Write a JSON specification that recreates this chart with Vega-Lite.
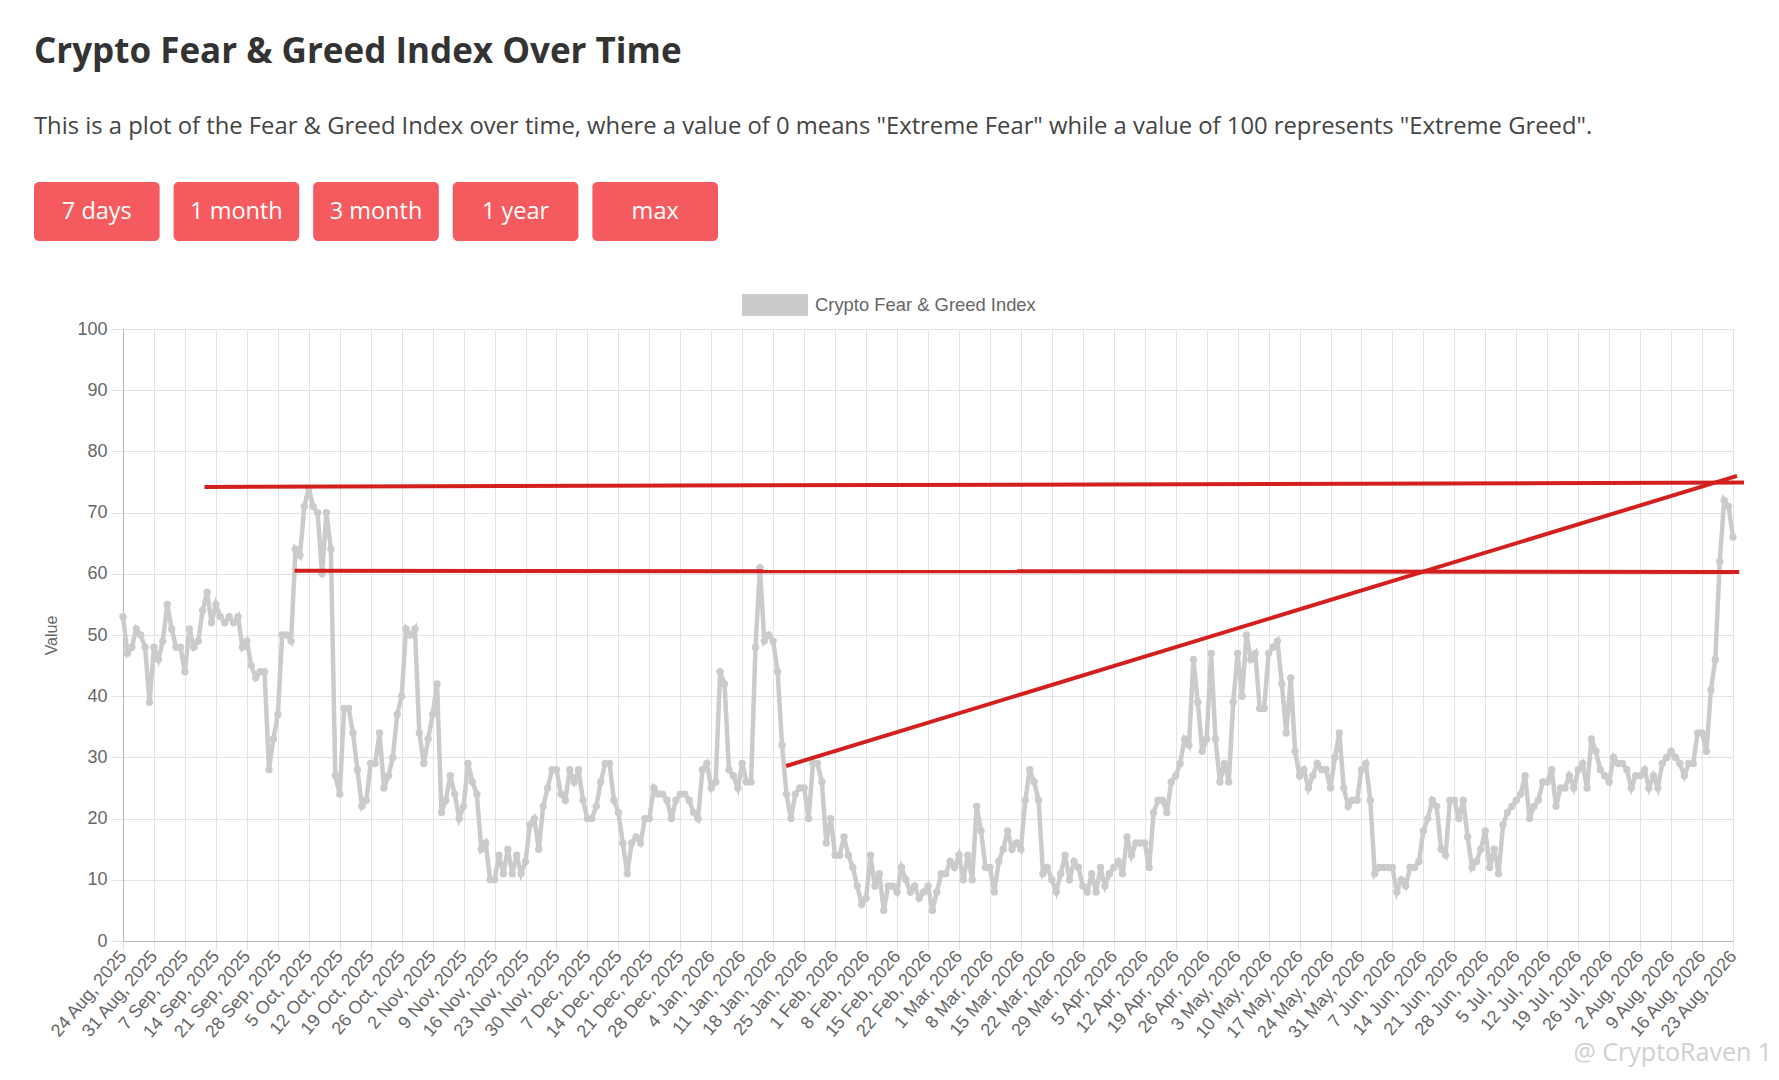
{
  "$schema": "https://vega.github.io/schema/vega-lite/v6.json",
  "background": "white",
  "padding": {"left": 34, "top": 35, "right": 20, "bottom": 0},
  "resolve": {"legend": {"color": "independent"}},
  "title": {
    "text": "Crypto Fear & Greed Index Over Time",
    "subtitle": "This is a plot of the Fear & Greed Index over time, where a value of 0 means \"Extreme Fear\" while a value of 100 represents \"Extreme Greed\".",
    "anchor": "start",
    "font": "Open Sans",
    "fontSize": 35,
    "fontWeight": "bold",
    "color": "#333333",
    "subtitleFont": "Open Sans",
    "subtitleFontSize": 23.8,
    "subtitleColor": "#444444",
    "subtitlePadding": 45,
    "offset": 43
  },
  "datasets": {
    "buttons": [
      {"label": "7 days"}, {"label": "1 month"}, {"label": "3 month"}, {"label": "1 year"}, {"label": "max"}
    ],
    "redlines": [
      {"x1": "2025-09-11T10:00:00Z", "y1": 74.2, "x2": "2026-08-25T12:00:00Z", "y2": 74.9},
      {"x1": "2025-10-01T19:00:00Z", "y1": 60.5, "x2": "2026-08-24T10:00:00Z", "y2": 60.3},
      {"x1": "2026-01-20T22:00:00Z", "y1": 28.6, "x2": "2026-08-23T22:00:00Z", "y2": 76.0}
    ],
    "fng": [
      {"d":"2025-08-24","v":53},{"d":"2025-08-25","v":47},{"d":"2025-08-26","v":48},{"d":"2025-08-27","v":51},{"d":"2025-08-28","v":50},{"d":"2025-08-29","v":48},{"d":"2025-08-30","v":39},{"d":"2025-08-31","v":48},
      {"d":"2025-09-01","v":46},{"d":"2025-09-02","v":49},{"d":"2025-09-03","v":55},{"d":"2025-09-04","v":51},{"d":"2025-09-05","v":48},{"d":"2025-09-06","v":48},{"d":"2025-09-07","v":44},{"d":"2025-09-08","v":51},{"d":"2025-09-09","v":48},{"d":"2025-09-10","v":49},
      {"d":"2025-09-11","v":54},{"d":"2025-09-12","v":57},{"d":"2025-09-13","v":52},{"d":"2025-09-14","v":55},{"d":"2025-09-15","v":53},{"d":"2025-09-16","v":52},{"d":"2025-09-17","v":53},{"d":"2025-09-18","v":52},{"d":"2025-09-19","v":53},{"d":"2025-09-20","v":48},
      {"d":"2025-09-21","v":49},{"d":"2025-09-22","v":45},{"d":"2025-09-23","v":43},{"d":"2025-09-24","v":44},{"d":"2025-09-25","v":44},{"d":"2025-09-26","v":28},{"d":"2025-09-27","v":33},{"d":"2025-09-28","v":37},{"d":"2025-09-29","v":50},{"d":"2025-09-30","v":50},
      {"d":"2025-10-01","v":49},{"d":"2025-10-02","v":64},{"d":"2025-10-03","v":63},{"d":"2025-10-04","v":71},{"d":"2025-10-05","v":74},{"d":"2025-10-06","v":71},{"d":"2025-10-07","v":70},{"d":"2025-10-08","v":60},{"d":"2025-10-09","v":70},{"d":"2025-10-10","v":64},
      {"d":"2025-10-11","v":27},{"d":"2025-10-12","v":24},{"d":"2025-10-13","v":38},{"d":"2025-10-14","v":38},{"d":"2025-10-15","v":34},{"d":"2025-10-16","v":28},{"d":"2025-10-17","v":22},{"d":"2025-10-18","v":23},{"d":"2025-10-19","v":29},{"d":"2025-10-20","v":29},
      {"d":"2025-10-21","v":34},{"d":"2025-10-22","v":25},{"d":"2025-10-23","v":27},{"d":"2025-10-24","v":30},{"d":"2025-10-25","v":37},{"d":"2025-10-26","v":40},{"d":"2025-10-27","v":51},{"d":"2025-10-28","v":50},{"d":"2025-10-29","v":51},{"d":"2025-10-30","v":34},{"d":"2025-10-31","v":29},
      {"d":"2025-11-01","v":33},{"d":"2025-11-02","v":37},{"d":"2025-11-03","v":42},{"d":"2025-11-04","v":21},{"d":"2025-11-05","v":23},{"d":"2025-11-06","v":27},{"d":"2025-11-07","v":24},{"d":"2025-11-08","v":20},{"d":"2025-11-09","v":22},{"d":"2025-11-10","v":29},
      {"d":"2025-11-11","v":26},{"d":"2025-11-12","v":24},{"d":"2025-11-13","v":15},{"d":"2025-11-14","v":16},{"d":"2025-11-15","v":10},{"d":"2025-11-16","v":10},{"d":"2025-11-17","v":14},{"d":"2025-11-18","v":11},{"d":"2025-11-19","v":15},{"d":"2025-11-20","v":11},
      {"d":"2025-11-21","v":14},{"d":"2025-11-22","v":11},{"d":"2025-11-23","v":13},{"d":"2025-11-24","v":19},{"d":"2025-11-25","v":20},{"d":"2025-11-26","v":15},{"d":"2025-11-27","v":22},{"d":"2025-11-28","v":25},{"d":"2025-11-29","v":28},{"d":"2025-11-30","v":28},
      {"d":"2025-12-01","v":24},{"d":"2025-12-02","v":23},{"d":"2025-12-03","v":28},{"d":"2025-12-04","v":26},{"d":"2025-12-05","v":28},{"d":"2025-12-06","v":23},{"d":"2025-12-07","v":20},{"d":"2025-12-08","v":20},{"d":"2025-12-09","v":22},{"d":"2025-12-10","v":26},
      {"d":"2025-12-11","v":29},{"d":"2025-12-12","v":29},{"d":"2025-12-13","v":23},{"d":"2025-12-14","v":21},{"d":"2025-12-15","v":16},{"d":"2025-12-16","v":11},{"d":"2025-12-17","v":16},{"d":"2025-12-18","v":17},{"d":"2025-12-19","v":16},{"d":"2025-12-20","v":20},
      {"d":"2025-12-21","v":20},{"d":"2025-12-22","v":25},{"d":"2025-12-23","v":24},{"d":"2025-12-24","v":24},{"d":"2025-12-25","v":23},{"d":"2025-12-26","v":20},{"d":"2025-12-27","v":23},{"d":"2025-12-28","v":24},{"d":"2025-12-29","v":24},{"d":"2025-12-30","v":23},{"d":"2025-12-31","v":21},
      {"d":"2026-01-01","v":20},{"d":"2026-01-02","v":28},{"d":"2026-01-03","v":29},{"d":"2026-01-04","v":25},{"d":"2026-01-05","v":26},{"d":"2026-01-06","v":44},{"d":"2026-01-07","v":42},{"d":"2026-01-08","v":28},{"d":"2026-01-09","v":27},{"d":"2026-01-10","v":25},
      {"d":"2026-01-11","v":29},{"d":"2026-01-12","v":26},{"d":"2026-01-13","v":26},{"d":"2026-01-14","v":48},{"d":"2026-01-15","v":61},{"d":"2026-01-16","v":49},{"d":"2026-01-17","v":50},{"d":"2026-01-18","v":49},{"d":"2026-01-19","v":44},{"d":"2026-01-20","v":32},
      {"d":"2026-01-21","v":24},{"d":"2026-01-22","v":20},{"d":"2026-01-23","v":24},{"d":"2026-01-24","v":25},{"d":"2026-01-25","v":25},{"d":"2026-01-26","v":20},{"d":"2026-01-27","v":29},{"d":"2026-01-28","v":29},{"d":"2026-01-29","v":26},{"d":"2026-01-30","v":16},{"d":"2026-01-31","v":20},
      {"d":"2026-02-01","v":14},{"d":"2026-02-02","v":14},{"d":"2026-02-03","v":17},{"d":"2026-02-04","v":14},{"d":"2026-02-05","v":12},{"d":"2026-02-06","v":9},{"d":"2026-02-07","v":6},{"d":"2026-02-08","v":7},{"d":"2026-02-09","v":14},{"d":"2026-02-10","v":9},
      {"d":"2026-02-11","v":11},{"d":"2026-02-12","v":5},{"d":"2026-02-13","v":9},{"d":"2026-02-14","v":9},{"d":"2026-02-15","v":8},{"d":"2026-02-16","v":12},{"d":"2026-02-17","v":10},{"d":"2026-02-18","v":8},{"d":"2026-02-19","v":9},{"d":"2026-02-20","v":7},
      {"d":"2026-02-21","v":8},{"d":"2026-02-22","v":9},{"d":"2026-02-23","v":5},{"d":"2026-02-24","v":8},{"d":"2026-02-25","v":11},{"d":"2026-02-26","v":11},{"d":"2026-02-27","v":13},{"d":"2026-02-28","v":12},
      {"d":"2026-03-01","v":14},{"d":"2026-03-02","v":10},{"d":"2026-03-03","v":14},{"d":"2026-03-04","v":10},{"d":"2026-03-05","v":22},{"d":"2026-03-06","v":18},{"d":"2026-03-07","v":12},{"d":"2026-03-08","v":12},{"d":"2026-03-09","v":8},{"d":"2026-03-10","v":13},
      {"d":"2026-03-11","v":15},{"d":"2026-03-12","v":18},{"d":"2026-03-13","v":15},{"d":"2026-03-14","v":16},{"d":"2026-03-15","v":15},{"d":"2026-03-16","v":23},{"d":"2026-03-17","v":28},{"d":"2026-03-18","v":26},{"d":"2026-03-19","v":23},{"d":"2026-03-20","v":11},
      {"d":"2026-03-21","v":12},{"d":"2026-03-22","v":10},{"d":"2026-03-23","v":8},{"d":"2026-03-24","v":11},{"d":"2026-03-25","v":14},{"d":"2026-03-26","v":10},{"d":"2026-03-27","v":13},{"d":"2026-03-28","v":12},{"d":"2026-03-29","v":9},{"d":"2026-03-30","v":8},{"d":"2026-03-31","v":11},
      {"d":"2026-04-01","v":8},{"d":"2026-04-02","v":12},{"d":"2026-04-03","v":9},{"d":"2026-04-04","v":11},{"d":"2026-04-05","v":12},{"d":"2026-04-06","v":13},{"d":"2026-04-07","v":11},{"d":"2026-04-08","v":17},{"d":"2026-04-09","v":14},{"d":"2026-04-10","v":16},
      {"d":"2026-04-11","v":16},{"d":"2026-04-12","v":16},{"d":"2026-04-13","v":12},{"d":"2026-04-14","v":21},{"d":"2026-04-15","v":23},{"d":"2026-04-16","v":23},{"d":"2026-04-17","v":21},{"d":"2026-04-18","v":26},{"d":"2026-04-19","v":27},{"d":"2026-04-20","v":29},
      {"d":"2026-04-21","v":33},{"d":"2026-04-22","v":32},{"d":"2026-04-23","v":46},{"d":"2026-04-24","v":39},{"d":"2026-04-25","v":31},{"d":"2026-04-26","v":33},{"d":"2026-04-27","v":47},{"d":"2026-04-28","v":33},{"d":"2026-04-29","v":26},{"d":"2026-04-30","v":29},
      {"d":"2026-05-01","v":26},{"d":"2026-05-02","v":39},{"d":"2026-05-03","v":47},{"d":"2026-05-04","v":40},{"d":"2026-05-05","v":50},{"d":"2026-05-06","v":46},{"d":"2026-05-07","v":47},{"d":"2026-05-08","v":38},{"d":"2026-05-09","v":38},{"d":"2026-05-10","v":47},
      {"d":"2026-05-11","v":48},{"d":"2026-05-12","v":49},{"d":"2026-05-13","v":42},{"d":"2026-05-14","v":34},{"d":"2026-05-15","v":43},{"d":"2026-05-16","v":31},{"d":"2026-05-17","v":27},{"d":"2026-05-18","v":28},{"d":"2026-05-19","v":25},{"d":"2026-05-20","v":27},
      {"d":"2026-05-21","v":29},{"d":"2026-05-22","v":28},{"d":"2026-05-23","v":28},{"d":"2026-05-24","v":25},{"d":"2026-05-25","v":30},{"d":"2026-05-26","v":34},{"d":"2026-05-27","v":25},{"d":"2026-05-28","v":22},{"d":"2026-05-29","v":23},{"d":"2026-05-30","v":23},{"d":"2026-05-31","v":28},
      {"d":"2026-06-01","v":29},{"d":"2026-06-02","v":23},{"d":"2026-06-03","v":11},{"d":"2026-06-04","v":12},{"d":"2026-06-05","v":12},{"d":"2026-06-06","v":12},{"d":"2026-06-07","v":12},{"d":"2026-06-08","v":8},{"d":"2026-06-09","v":10},{"d":"2026-06-10","v":9},
      {"d":"2026-06-11","v":12},{"d":"2026-06-12","v":12},{"d":"2026-06-13","v":13},{"d":"2026-06-14","v":18},{"d":"2026-06-15","v":20},{"d":"2026-06-16","v":23},{"d":"2026-06-17","v":22},{"d":"2026-06-18","v":15},{"d":"2026-06-19","v":14},{"d":"2026-06-20","v":23},
      {"d":"2026-06-21","v":23},{"d":"2026-06-22","v":20},{"d":"2026-06-23","v":23},{"d":"2026-06-24","v":17},{"d":"2026-06-25","v":12},{"d":"2026-06-26","v":13},{"d":"2026-06-27","v":15},{"d":"2026-06-28","v":18},{"d":"2026-06-29","v":12},{"d":"2026-06-30","v":15},
      {"d":"2026-07-01","v":11},{"d":"2026-07-02","v":19},{"d":"2026-07-03","v":21},{"d":"2026-07-04","v":22},{"d":"2026-07-05","v":23},{"d":"2026-07-06","v":24},{"d":"2026-07-07","v":27},{"d":"2026-07-08","v":20},{"d":"2026-07-09","v":22},{"d":"2026-07-10","v":23},
      {"d":"2026-07-11","v":26},{"d":"2026-07-12","v":26},{"d":"2026-07-13","v":28},{"d":"2026-07-14","v":22},{"d":"2026-07-15","v":25},{"d":"2026-07-16","v":25},{"d":"2026-07-17","v":27},{"d":"2026-07-18","v":25},{"d":"2026-07-19","v":28},{"d":"2026-07-20","v":29},
      {"d":"2026-07-21","v":25},{"d":"2026-07-22","v":33},{"d":"2026-07-23","v":31},{"d":"2026-07-24","v":28},{"d":"2026-07-25","v":27},{"d":"2026-07-26","v":26},{"d":"2026-07-27","v":30},{"d":"2026-07-28","v":29},{"d":"2026-07-29","v":29},{"d":"2026-07-30","v":28},{"d":"2026-07-31","v":25},
      {"d":"2026-08-01","v":27},{"d":"2026-08-02","v":27},{"d":"2026-08-03","v":28},{"d":"2026-08-04","v":25},{"d":"2026-08-05","v":27},{"d":"2026-08-06","v":25},{"d":"2026-08-07","v":29},{"d":"2026-08-08","v":30},{"d":"2026-08-09","v":31},{"d":"2026-08-10","v":30},
      {"d":"2026-08-11","v":29},{"d":"2026-08-12","v":27},{"d":"2026-08-13","v":29},{"d":"2026-08-14","v":29},{"d":"2026-08-15","v":34},{"d":"2026-08-16","v":34},{"d":"2026-08-17","v":31},{"d":"2026-08-18","v":41},{"d":"2026-08-19","v":46},{"d":"2026-08-20","v":62},
      {"d":"2026-08-21","v":72},{"d":"2026-08-22","v":71},{"d":"2026-08-23","v":66}
    ]
  },
  "spacing": 31,
  "vconcat": [
    {
      "width": 684,
      "height": 59,
      "data": {"name": "buttons"},
      "encoding": {
        "x": {"field": "label", "type": "nominal", "sort": null, "scale": {"range": [-89, 595], "paddingInner": 0.1, "paddingOuter": 0}, "axis": null}
      },
      "layer": [
        {"mark": {"type": "bar", "color": "#f55b5e", "cornerRadius": 5}},
        {"mark": {"type": "text", "color": "white", "font": "Open Sans", "fontSize": 23.5}, "encoding": {"text": {"field": "label"}}}
      ]
    },
    {
      "width": 1610,
      "height": 612,
      "title": {"text": "@ CryptoRaven 1", "orient": "bottom", "anchor": "end", "font": "Open Sans", "fontSize": 25, "fontWeight": "normal", "color": "#d0d0d0", "offset": 0, "dx": 26},
      "layer": [
        {
          "data": {"name": "fng"},
          "mark": {"type": "line", "strokeWidth": 4.5, "point": {"filled": true, "size": 55}},
          "encoding": {
            "x": {
              "field": "d", "type": "temporal", "title": null,
              "scale": {"type": "utc", "domain": [{"year": 2025, "month": 8, "date": 24, "utc": true}, {"year": 2026, "month": 8, "date": 23, "utc": true}]},
              "axis": {
                "tickCount": {"interval": "week", "step": 1},
                "format": "%-d %b, %Y",
                "labelAngle": -50,
                "labelFontSize": 18,
                "labelColor": "#666666",
                "labelOverlap": false,
                "labelFlush": false,
                "labelBound": false,
                "labelPadding": 3,
                "tickSize": 9,
                "tickColor": "#e3e3e3",
                "gridColor": "#e3e3e3",
                "domainColor": "#b8b8b8"
              }
            },
            "y": {
              "field": "v", "type": "quantitative", "title": "Value",
              "scale": {"domain": [0, 100], "nice": false},
              "axis": {
                "values": [0, 10, 20, 30, 40, 50, 60, 70, 80, 90, 100],
                "labelFontSize": 18,
                "labelColor": "#666666",
                "labelPadding": 4,
                "tickSize": 12,
                "tickColor": "#e3e3e3",
                "gridColor": "#e3e3e3",
                "domainColor": "#b8b8b8",
                "titleFontSize": 16,
                "titleFontWeight": "normal",
                "titleColor": "#666666",
                "titlePadding": 17
              }
            },
            "color": {
              "datum": "Crypto Fear & Greed Index",
              "type": "nominal",
              "scale": {"range": ["#cbcbcb"]},
              "legend": {
                "orient": "none",
                "legendX": 619,
                "legendY": -57,
                "title": null,
                "direction": "horizontal",
                "symbolType": "M-1,-0.33H1V0.33H-1Z",
                "symbolSize": 4356,
                "symbolFillColor": "#cccccc",
                "symbolStrokeWidth": 0,
                "labelFontSize": 18.4,
                "labelColor": "#666666",
                "labelOffset": 7,
                "labelLimit": 500
              }
            }
          }
        },
        {
          "data": {"name": "redlines"},
          "mark": {"type": "rule", "color": "#d41f1f", "strokeWidth": 4},
          "encoding": {
            "x": {"field": "x1", "type": "temporal", "title": null},
            "x2": {"field": "x2"},
            "y": {"field": "y1", "type": "quantitative", "title": "Value"},
            "y2": {"field": "y2"}
          }
        }
      ]
    }
  ],
  "config": {
    "font": "Liberation Sans",
    "view": {"stroke": null}
  }
}
